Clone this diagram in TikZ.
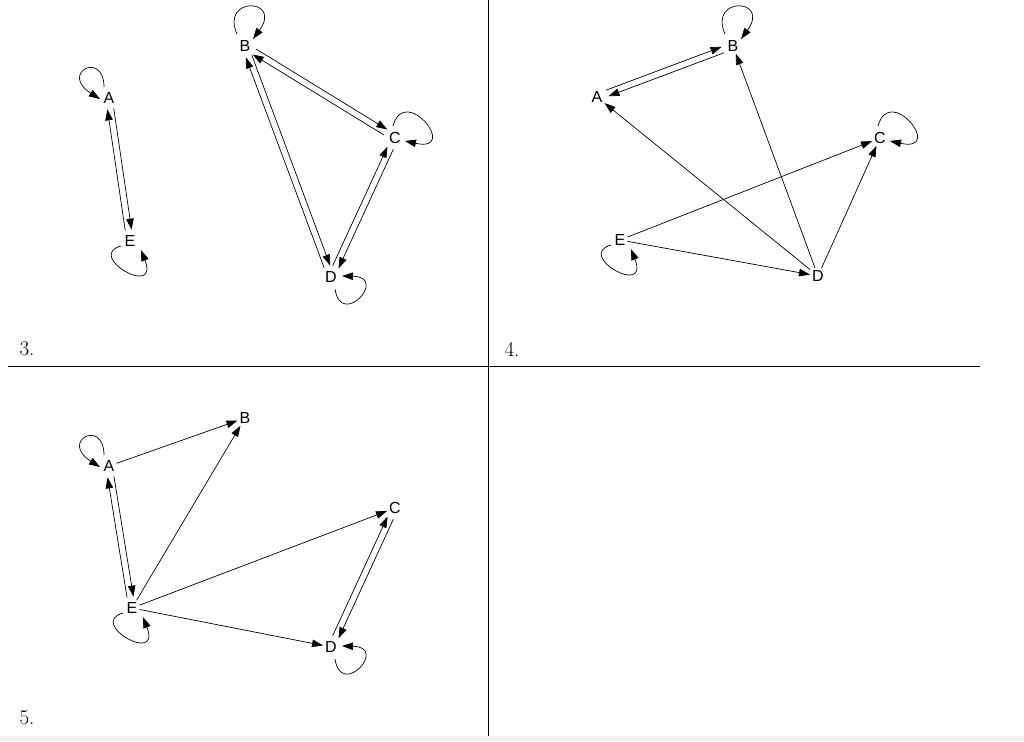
\documentclass[tikz,border=0pt]{standalone}
\usepackage{fontspec}
\newfontfamily\arial{Liberation Sans}
\usetikzlibrary{arrows.meta,calc}
\tikzset{
  vtx/.style={font=\arial\fontsize{16}{16}\selectfont, inner sep=2pt},
  arr/.style={-{Triangle[length=11pt,width=7.5pt]}, line width=0.7pt},
  num/.style={font=\fontsize{21}{21}\selectfont, anchor=west},
  rule/.style={line width=0.8pt}
}
\newcommand{\dbl}[2]{%
  \draw[arr, shorten <=11pt, shorten >=11pt] ($(#1)!3.2pt!90:(#2)$) -- ($(#2)!3.2pt!-90:(#1)$);
  \draw[arr, shorten <=11pt, shorten >=11pt] ($(#2)!3.2pt!90:(#1)$) -- ($(#1)!3.2pt!-90:(#2)$);}
\newcommand{\loopA}[1]{\draw[arr] ($(#1)+(-5,-11)$) .. controls ($(#1)+(-5,-48)$) and ($(#1)+(-50,-25)$) .. ($(#1)+(-9,1)$);}
\newcommand{\loopB}[1]{\draw[arr] ($(#1)+(-8,-12)$) .. controls ($(#1)+(-25,-50)$) and ($(#1)+(38,-48)$) .. ($(#1)+(8,-7)$);}
\newcommand{\loopC}[1]{\draw[arr] ($(#1)+(-2,-12)$) .. controls ($(#1)+(10,-55)$) and ($(#1)+(65,15)$) .. ($(#1)+(10,3)$);}
\newcommand{\loopD}[1]{\draw[arr] ($(#1)+(4,12)$) .. controls ($(#1)+(10,52)$) and ($(#1)+(58,0)$) .. ($(#1)+(11,-1)$);}
\newcommand{\loopE}[1]{\draw[arr] ($(#1)+(-9,5)$) .. controls ($(#1)+(-45,15)$) and ($(#1)+(30,58)$) .. ($(#1)+(11,9)$);}
\begin{document}
\begin{tikzpicture}[x=1pt,y=-1pt]
\useasboundingbox (0,0) rectangle (1024,741);
\fill[black!6] (0,736) rectangle (1024,741);
\draw[rule] (488,0) -- (488,736);
\draw[rule] (8,366) -- (980,366);
\node[num] (n3) at (16,349) {3.};
\node[num] (n4) at (501,349) {4.};
\node[num] (n5) at (16,718) {5.};
% panel 3
\node[vtx] (a3) at (109,98) {A};
\node[vtx] (b3) at (245,46) {B};
\node[vtx] (c3) at (395,138) {C};
\node[vtx] (d3) at (331,277) {D};
\node[vtx] (e3) at (130,241) {E};
\dbl{a3}{e3}\dbl{b3}{c3}\dbl{b3}{d3}\dbl{c3}{d3}
\loopA{a3}\loopB{b3}\loopC{c3}\loopD{d3}\loopE{e3}
% panel 4
\node[vtx] (a4) at (597,97) {A};
\node[vtx] (b4) at (733,46) {B};
\node[vtx] (c4) at (880,138) {C};
\node[vtx] (d4) at (818,276) {D};
\node[vtx] (e4) at (620,240) {E};
\dbl{a4}{b4}
\draw[arr] (d4) -- (a4);
\draw[arr] (d4) -- (b4);
\draw[arr] (d4) -- (c4);
\draw[arr] (e4) -- (c4);
\draw[arr] (e4) -- (d4);
\loopB{b4}\loopC{c4}\loopE{e4}
% panel 5
\node[vtx] (a5) at (109,466) {A};
\node[vtx] (b5) at (245,418) {B};
\node[vtx] (c5) at (395,508) {C};
\node[vtx] (d5) at (331,647) {D};
\node[vtx] (e5) at (132,608) {E};
\dbl{a5}{e5}\dbl{c5}{d5}
\draw[arr] (a5) -- (b5);
\draw[arr] (e5) -- (b5);
\draw[arr] (e5) -- (c5);
\draw[arr] (e5) -- (d5);
\loopA{a5}\loopD{d5}\loopE{e5}
\end{tikzpicture}
\end{document}
